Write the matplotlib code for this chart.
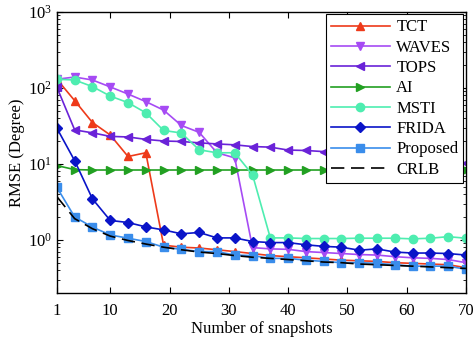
import matplotlib
matplotlib.use("Agg")
import matplotlib.pyplot as plt

plt.rcParams['font.family'] = ['Liberation Serif', 'DejaVu Serif']
plt.rcParams['mathtext.fontset'] = 'stix'

snapshots = [1, 4, 7, 10, 13, 16, 19, 22, 25, 28, 31, 34, 37, 40,
             43, 46, 49, 52, 55, 58, 61, 64, 67, 70]

tct = [130, 68, 35, 24, 12.5, 14, 0.85, 0.8, 0.78, 0.74, 0.7, 0.66, 0.62, 0.6,
       0.58, 0.56, 0.54, 0.53, 0.52, 0.5, 0.49, 0.48, 0.47, 0.43]
waves = [130, 139, 127, 103, 83, 66, 51, 32, 26, 14, 12, 0.79, 0.76, 0.75,
         0.70, 0.68, 0.66, 0.64, 0.63, 0.6, 0.58, 0.57, 0.55, 0.5]
tops = [102, 28, 25.6, 23, 22.6, 21, 20, 19.7, 18.9, 18.3, 17.8, 16.9, 16.6, 15.2,
        15, 14.5, 14.1, 13.7, 13.3, 12.8, 12.3, 11.7, 11.1, 10.3]
ai = [9.5, 8.4, 8.3, 8.3, 8.3, 8.3, 8.3, 8.3, 8.3, 8.3, 8.3, 8.3, 8.3, 8.3,
      8.3, 8.3, 8.3, 8.3, 8.3, 8.3, 8.3, 8.3, 8.3, 8.3]
msti = [130, 127, 104, 78, 64, 47, 27.5, 25.5, 15.3, 14, 14, 7.2, 1.06, 1.06,
        1.04, 1.04, 1.04, 1.05, 1.05, 1.05, 1.03, 1.05, 1.1, 1.05]
frida = [29.5, 11, 3.46, 1.8, 1.69, 1.48, 1.35, 1.2, 1.25, 1.06, 1.06, 0.95, 0.92, 0.92,
         0.86, 0.82, 0.80, 0.73, 0.76, 0.69, 0.67, 0.67, 0.66, 0.63]
proposed = [4.9, 2.0, 1.47, 1.16, 1.05, 0.95, 0.8, 0.75, 0.7, 0.7, 0.63, 0.62, 0.57, 0.57,
            0.54, 0.52, 0.5, 0.5, 0.49, 0.47, 0.45, 0.45, 0.45, 0.41]
crlb = [3.7, 1.9, 1.4, 1.12, 0.98, 0.88, 0.8, 0.74, 0.69, 0.66, 0.62, 0.59, 0.57, 0.55,
        0.53, 0.51, 0.5, 0.48, 0.47, 0.46, 0.45, 0.44, 0.43, 0.42]

fig = plt.figure(figsize=(4.74, 3.41), dpi=100)
ax = fig.add_axes([0.120, 0.141, 0.863, 0.824])

ms = 6
lw = 1.2
ax.plot(snapshots, tct, color='#EE3A1A', marker='^', ms=ms, lw=lw, label='TCT')
ax.plot(snapshots, waves, color='#A64BF4', marker='v', ms=ms, lw=lw, label='WAVES')
ax.plot(snapshots, tops, color='#6A22D8', marker='<', ms=ms, lw=lw, label='TOPS')
ax.plot(snapshots, ai, color='#22A022', marker='>', ms=ms, lw=lw, label='AI')
ax.plot(snapshots, msti, color='#4EEDB0', marker='o', ms=ms, lw=lw, label='MSTI')
ax.plot(snapshots, frida, color='#0A14C8', marker='D', ms=5.5, lw=lw, label='FRIDA')
ax.plot(snapshots, proposed, color='#3A8DEB', marker='s', ms=ms, lw=lw, label='Proposed')
ax.plot(snapshots, crlb, color='black', ls=(0, (8, 4)), lw=1.2, label='CRLB')

ax.set_yscale('log')
ax.set_ylim(0.2, 1000)
ax.set_xlim(1, 70)
ax.set_xticks([1, 10, 20, 30, 40, 50, 60, 70])
for s in ax.spines.values():
    s.set_linewidth(1.0)
ax.tick_params(which='both', direction='in', top=True, right=True, labelsize=12)
ax.tick_params(which='major', length=4)
ax.tick_params(which='minor', length=2)
ax.tick_params(axis='x', pad=7)
ax.set_xlabel('Number of snapshots', fontsize=12, labelpad=2)
ax.set_ylabel('RMSE (Degree)', fontsize=12, labelpad=2)

leg = ax.legend(loc='upper right', fontsize=12, fancybox=False, framealpha=1,
                edgecolor='black', borderaxespad=0.15, handlelength=3.5,
                labelspacing=0.26, borderpad=0.3, handletextpad=0.4)
leg.get_frame().set_linewidth(0.8)

fig.savefig('out.png', dpi=100)
